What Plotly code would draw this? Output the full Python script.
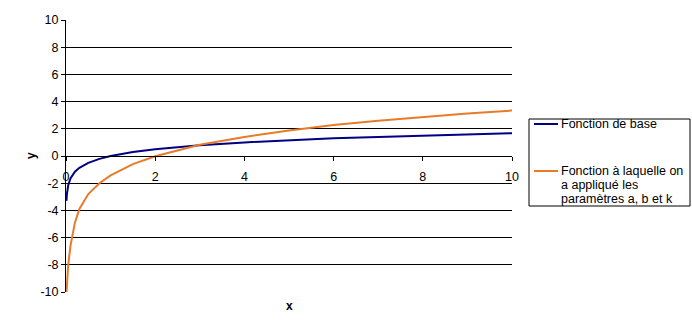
import plotly.graph_objects as go

# Data
x_vals = [0.01, 0.02, 0.05, 0.1, 0.2, 0.3, 0.5, 0.75, 1, 1.5, 2, 3, 4, 5, 6, 7, 8, 9, 10]
base_vals = [-3.3, -2.8, -2.15, -1.65, -1.15, -0.87, -0.5, -0.21, 0.0, 0.29, 0.5, 0.79,
             1.0, 1.16, 1.3, 1.4, 1.5, 1.58, 1.68]
x_vals2 = [0.012, 0.02, 0.05, 0.1, 0.2, 0.3, 0.4, 0.5, 0.75, 1, 1.5, 2, 3, 4, 5, 6, 7, 8, 9, 10]
param_vals = [-10.0, -9.3, -8.0, -6.6, -4.9, -3.9, -3.3, -2.8, -2.0, -1.42, -0.6, -0.02,
              0.82, 1.4, 1.88, 2.28, 2.6, 2.88, 3.12, 3.34]
series_names = ["Fonction de base", "Fonction à laquelle on<br>a appliqué les<br>paramètres a, b et k"]
colors = ["#000080", "#E87B2A"]
x_ticks = [0, 2, 4, 6, 8, 10]
y_ticks = [-10, -8, -6, -4, -2, 0, 2, 4, 6, 8, 10]

W, H = 692, 332
L, R, T, B = 66, 512, 20, 292
FONT = "Liberation Sans, Arial, sans-serif"


def px(xp):
    return (xp - L) / (R - L)


def py(yp):
    return (B - yp) / (B - T)


fig = go.Figure()
fig.add_trace(go.Scatter(x=x_vals, y=base_vals, mode="lines", name=series_names[0],
                         line=dict(color=colors[0], width=2), showlegend=False))
fig.add_trace(go.Scatter(x=x_vals2, y=param_vals, mode="lines",
                         name=series_names[1].replace("<br>", " "),
                         line=dict(color=colors[1], width=2), showlegend=False))

fig.update_layout(
    width=W, height=H,
    margin=dict(l=L, r=W - R, t=T, b=H - B, pad=0),
    paper_bgcolor="white", plot_bgcolor="white",
    font=dict(family=FONT, size=12, color="black"),
    xaxis=dict(range=[0, 10], tickvals=x_ticks, ticktext=[str(v) for v in x_ticks],
               showgrid=False, zeroline=False, showline=True, linecolor="black", linewidth=1,
               ticks="outside", ticklen=4, tickcolor="black", anchor="free", position=0.5,
               ticklabelstandoff=5, fixedrange=True, tickfont=dict(size=12.5)),
    yaxis=dict(range=[-10, 10], tickvals=y_ticks, ticktext=[str(v) for v in y_ticks],
               showgrid=True, gridcolor="black", gridwidth=1, zeroline=False,
               showline=True, linecolor="black", linewidth=1,
               ticks="outside", ticklen=4, tickcolor="black", fixedrange=True,
               tickfont=dict(size=12.5)),
)

# axis titles
fig.add_annotation(text="<b>x</b>", xref="paper", yref="paper", x=px(289), y=py(315),
                   showarrow=False, font=dict(size=12))
fig.add_annotation(text="<b>y</b>", xref="paper", yref="paper", x=px(22), y=py(156),
                   showarrow=False, textangle=-90, font=dict(size=12))

# legend box (drawn manually to match the compact Excel legend)
fig.add_shape(type="rect", xref="paper", yref="paper", x0=px(529), x1=px(690),
              y0=py(206), y1=py(119), line=dict(color="black", width=1), fillcolor="white")
legend_rows = [124, 171]
LINE_H = 14
for name, col, yrow in zip(series_names, colors, legend_rows):
    fig.add_shape(type="line", xref="paper", yref="paper", x0=px(534), x1=px(558),
                  y0=py(yrow), y1=py(yrow), line=dict(color=col, width=2))
    for i, part in enumerate(name.split("<br>")):
        fig.add_annotation(text=part, xref="paper", yref="paper", x=px(559),
                           y=py(yrow + i * LINE_H), xanchor="left", yanchor="middle",
                           align="left", showarrow=False, font=dict(size=12.5))

fig.write_html("out.html")
